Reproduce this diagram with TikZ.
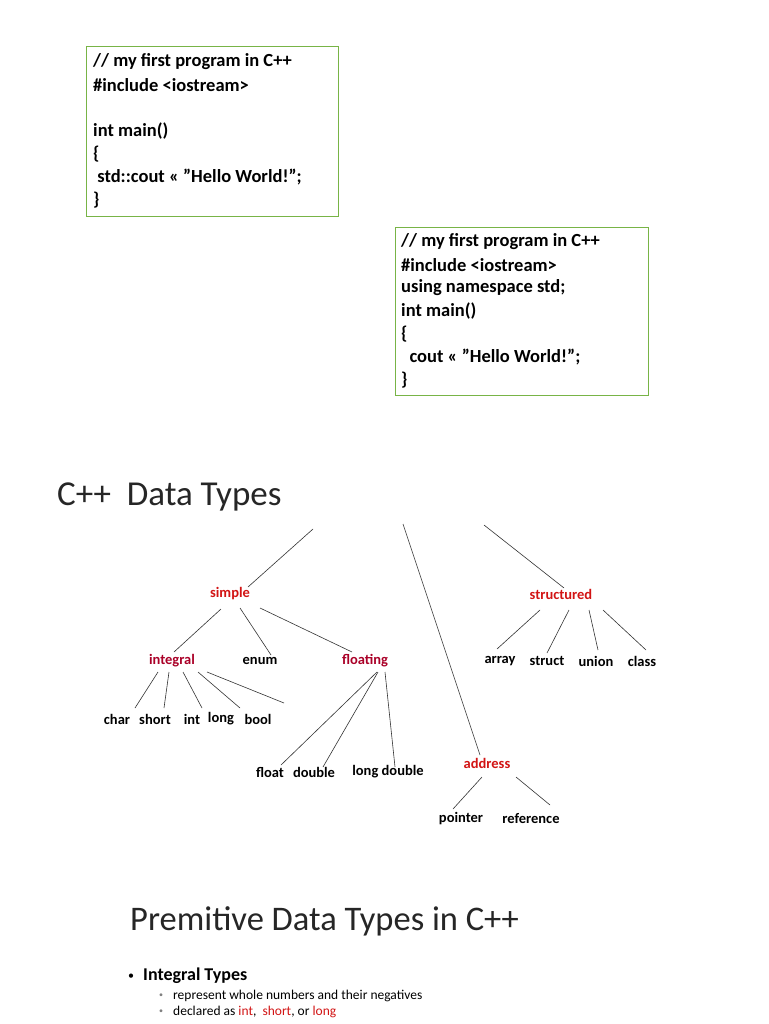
\documentclass[tikz,border=0pt]{standalone}
\usepackage{fontspec}
\setmainfont{Carlito}
\newcommand{\ltlt}{\textless\textless}
\newcommand{\dq}{\symbol{34}}
\begin{document}
\begin{tikzpicture}[x=1pt,y=-1pt,
  code/.style={anchor=west,font=\fontsize{18.5}{20}\selectfont\bfseries,inner sep=0},
  lbl/.style={font=\fontsize{14.5}{16}\selectfont\bfseries,inner sep=0},
  rlbl/.style={lbl,text=treered},
  clbl/.style={lbl,text=crim},
  edge/.style={draw=black!80,line width=0.6pt},
  cbox/.style={draw=boxgreen,line width=0.8pt}]
\definecolor{treered}{RGB}{210,20,20}
\definecolor{crim}{RGB}{170,0,40}
\definecolor{boxgreen}{RGB}{120,180,70}
\useasboundingbox (0,0) rectangle (768,1024);
\fill[white] (0,0) rectangle (768,1024);
% code boxes
\draw[cbox] (86,46) rectangle (338,216);
\node[code] (a1) at (93,62) {// my first program in C++};
\node[code] (a2) at (93,85) {\#include \textless iostream\textgreater};
\node[code] (a3) at (93,131) {int main()};
\node[code] (a4) at (93,154) {\{};
\node[code] (a5) at (93,177) {\ std::cout \ltlt\ \dq Hello World!\dq;};
\node[code] (a6) at (93,200) {\}};
\draw[cbox] (395,227) rectangle (648,395);
\node[code] (b1) at (401,242) {// my first program in C++};
\node[code] (b2) at (401,265) {\#include \textless iostream\textgreater};
\node[code] (b3) at (401,288) {using namespace std;};
\node[code] (b4) at (401,311) {int main()};
\node[code] (b5) at (401,334) {\{};
\node[code] (b6) at (401,357) {\ \ cout \ltlt\ \dq Hello World!\dq;};
\node[code] (b7) at (401,380) {\}};
% titles
\node[anchor=west,inner sep=0,font=\fontsize{35}{38}\selectfont,text=black!85] (t1) at (57,497) {C++\ \ Data Types};
\node[anchor=west,inner sep=0,font=\fontsize{34.5}{38}\selectfont,text=black!85] (t2) at (130,921) {Premitive Data Types in C++};
\node[anchor=west,inner sep=0,font=\fontsize{12}{14}\selectfont] (p0) at (128,977) {•};
\node[anchor=west,inner sep=0,font=\fontsize{18}{20}\selectfont\bfseries] (p1) at (143,976) {Integral Types};
\node[anchor=west,inner sep=0,font=\fontsize{8}{10}\selectfont,text=gray] (q2) at (159,996) {•};
\node[anchor=west,inner sep=0,font=\fontsize{13.5}{15}\selectfont] (p2) at (173,996) {represent whole numbers and their negatives};
\node[anchor=west,inner sep=0,font=\fontsize{8}{10}\selectfont,text=gray] (q3) at (159,1012) {•};
\node[anchor=west,inner sep=0,font=\fontsize{13.5}{15}\selectfont] (p3) at (173,1012) {declared as {\color{treered}int},\ \ {\color{treered}short}, or {\color{treered}long}};
% tree labels
\node[rlbl] (simple) at (230,594) {simple};
\node[rlbl] (structured) at (561,594) {structured};
\node[clbl] (integral) at (172,661) {integral};
\node[lbl] (enum) at (260,661) {enum};
\node[clbl] (floating) at (365,661) {floating};
\node[lbl] (array) at (500,661) {array};
\node[lbl] (struct) at (547,661) {struct};
\node[lbl] (union) at (596,661) {union};
\node[lbl] (class) at (642,661) {class};
\node[lbl] (char) at (117,719) {char};
\node[lbl] (short) at (155,719) {short};
\node[lbl] (int) at (192,719) {int};
\node[lbl] (long) at (221,719) {long};
\node[lbl] (bool) at (258,719) {bool};
\node[lbl] (float) at (270,772) {float};
\node[lbl] (double) at (314,772) {double};
\node[lbl] (ldouble) at (388,772) {long double};
\node[rlbl] (address) at (487,763) {address};
\node[lbl] (pointer) at (461,819) {pointer};
\node[lbl] (reference) at (531,819) {reference};
% tree lines
\draw[edge] (313,529) -- (248,587);
\draw[edge] (403,524) -- (480,755);
\draw[edge] (484,525) -- (564,588);
\draw[edge] (221,609) -- (174,652);
\draw[edge] (240,608) -- (271,655);
\draw[edge] (260,608) -- (352,652);
\draw[edge] (158,672) -- (135,708);
\draw[edge] (169,672) -- (164,708);
\draw[edge] (183,672) -- (202,708);
\draw[edge] (198,672) -- (240,708);
\draw[edge] (207,672) -- (284,703);
\draw[edge] (377,672) -- (281,765);
\draw[edge] (378,672) -- (323,767);
\draw[edge] (385,672) -- (395,767);
\draw[edge] (540,610) -- (497,649);
\draw[edge] (569,610) -- (547,653);
\draw[edge] (589,610) -- (598,650);
\draw[edge] (603,610) -- (646,650);
\draw[edge] (482,777) -- (453,809);
\draw[edge] (516,777) -- (550,805);
\end{tikzpicture}
\end{document}
